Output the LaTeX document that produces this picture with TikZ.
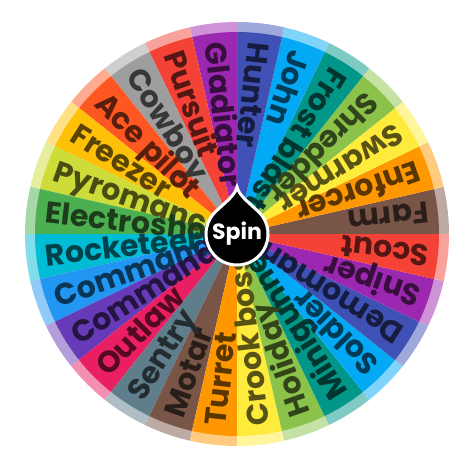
\documentclass[tikz,border=0pt]{standalone}
\usepackage{fontspec}
\setmainfont{Poppins}
\definecolor{mred}{HTML}{F44336}
\definecolor{mpink}{HTML}{E91E63}
\definecolor{mpurple}{HTML}{9C27B0}
\definecolor{mdpurple}{HTML}{673AB7}
\definecolor{mindigo}{HTML}{3F51B5}
\definecolor{mblue}{HTML}{2196F3}
\definecolor{mlblue}{HTML}{03A9F4}
\definecolor{mcyan}{HTML}{00BCD4}
\definecolor{mteal}{HTML}{009688}
\definecolor{mgreen}{HTML}{4CAF50}
\definecolor{mlgreen}{HTML}{8BC34A}
\definecolor{mlime}{HTML}{CDDC39}
\definecolor{myellow}{HTML}{FFEB3B}
\definecolor{mamber}{HTML}{FFC107}
\definecolor{morange}{HTML}{FF9800}
\definecolor{mdorange}{HTML}{FF5722}
\definecolor{mbrown}{HTML}{795548}
\definecolor{mgrey}{HTML}{9E9E9E}
\definecolor{mbgrey}{HTML}{607D8B}
\tikzset{
  wheeltext/.style = {font=\fontsize{30}{30}\selectfont\bfseries, inner sep=0pt, text height=21pt, text depth=0pt, anchor=west},
}
\begin{document}
\begin{tikzpicture}[x = 1pt, y = 1pt]
	\useasboundingbox (-237,-240) rectangle (237,234);
	\def\segs{Farm/mbrown, Enforcer/morange, Swarmer/myellow, Shredder/mlgreen, Frost blaster/mteal, John/mlblue, Hunter/mindigo, Gladiator/mpurple, Pursuit/mred, Cowboy/mgrey, Ace pilot/mdorange, Freezer/mamber, Pyromancer/mlime, Electroshocker/mgreen, Rocketeer/mcyan, Commander/mblue, Commando/mdpurple, Outlaw/mpink, Sentry/mbgrey, Motar/mbrown, Turret/morange, Crook boss/myellow, Holiday/mlgreen, Minigunner/mteal, Soldier/mlblue, Demoman/mindigo, Sniper/mpurple, Scout/mred}
	\foreach \lbl/\col [count = \i from 0] in \segs {
		\pgfmathsetmacro\a{\i*360/28}
		\pgfmathsetmacro\b{(\i+1)*360/28}
		\fill[\col!50!white] (0,0) -- (\a:212) arc[start angle = \a, end angle = \b, radius = 212] -- cycle; %rim
		\fill[\col] (0,0) -- (\a:202) arc[start angle = \a, end angle = \b, radius = 202] -- cycle; %slice
	}
	\foreach \lbl/\col [count = \i from 0] in \segs {
		\pgfmathsetmacro\m{(\i+.5)*360/28}
		\begin{scope}[rotate = \m]
			\clip (0,-220) rectangle (220,220); %keep text on its own side
			\node[wheeltext, text = \col!35!black, rotate = \m+180] (t\i) at (193,0) {\lbl};
		\end{scope}
	}
	\fill[black, draw = white, line width = 3pt] (0,47) .. controls (2,39) and (10,33) .. (50:31) arc[start angle = 50, end angle = -230, radius = 31] .. controls (-10,33) and (-2,39) .. cycle; %pointer
	\node[text = white, font = \fontsize{22}{22}\selectfont\bfseries] (spin) at (0,0) {Spin};
\end{tikzpicture}
\end{document}
